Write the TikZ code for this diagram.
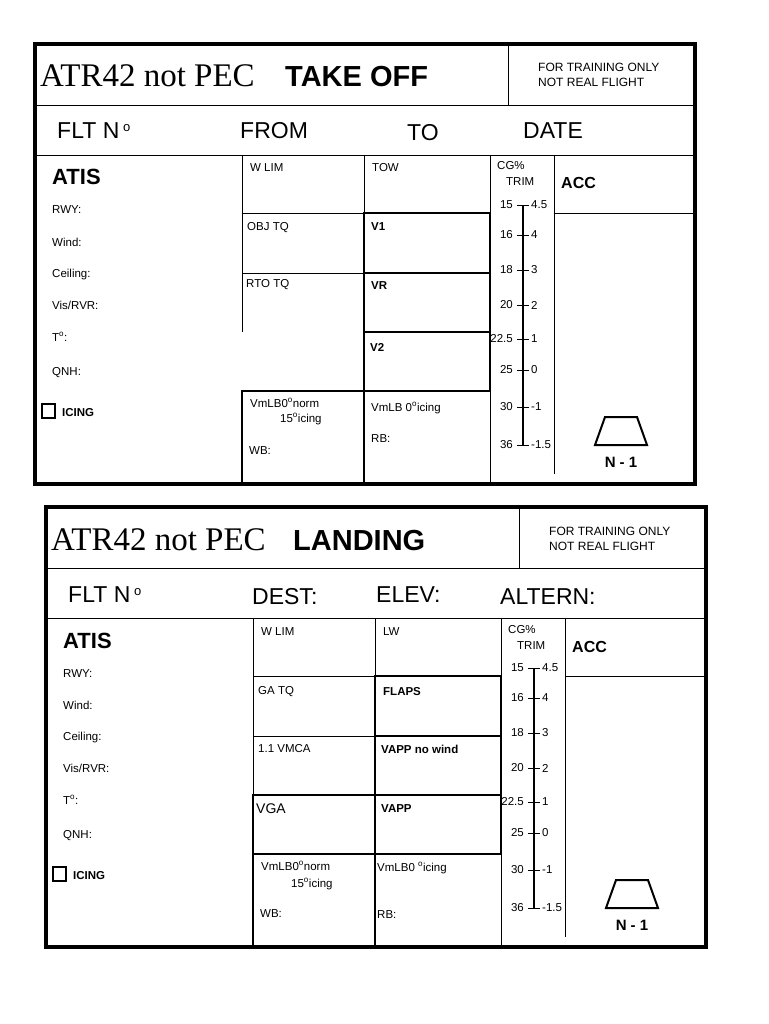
\documentclass[tikz,border=0pt]{standalone}
\usepackage{fontspec}
\setmainfont{Liberation Sans}
\newfontfamily\titlefont{Liberation Serif}
\tikzset{
  thin line/.style={line width=0.8pt},
  thick line/.style={line width=2.4pt},
  frame line/.style={line width=3.2pt},
  lbl/.style={anchor=base west, inner sep=0pt, font=\fontsize{11.5}{13}\selectfont},
  blbl/.style={lbl, font=\fontsize{11.5}{13}\selectfont\bfseries},
  head/.style={anchor=base west, inner sep=0pt, font=\fontsize{23}{26}\selectfont},
  small/.style={anchor=base west, inner sep=0pt, font=\fontsize{12}{14}\selectfont},
}
% grid, scale and side texts shared by both cards
\newcommand\cardbase{%
  \draw[thin line] (0,61) -- (660,61);
  \draw[thin line] (473,0) -- (473,61);
  \draw[thin line] (0,111) -- (660,111);
  \draw[thin line] (207,111) -- (207,288);
  \draw[thin line] (329,111) -- (329,169);
  \draw[thin line] (207,169) -- (329,169);
  \draw[thin line] (207,229) -- (329,229);
  \draw[thin line] (455,111) -- (455,440);
  \draw[thin line] (519,111) -- (519,430);
  \draw[thin line] (519,169) -- (660,169);
  \draw[thick line] (329,169) rectangle (455,229);
  \draw[thick line] (329,229) rectangle (455,288);
  \draw[thick line] (329,288) rectangle (455,347);
  \draw[thick line] (207,347) rectangle (329,440) (329,347) -- (329,440);
  \draw[frame line] (0,0) rectangle (660,440);
  \node[small] (train) at (503,28) {FOR TRAINING ONLY};
  \node[small] (real) at (503,43) {NOT REAL FLIGHT};
  \node[head] (flt) at (22,95) {FLT N\,\raisebox{7pt}{\fontsize{13}{13}\selectfont o}};
  \node[anchor=base west, inner sep=0pt, font=\fontsize{22}{24}\selectfont\bfseries] (atis) at (17,141) {ATIS};
  \node[lbl] (rwy) at (17,170) {RWY:};
  \node[lbl] (wind) at (17,202) {Wind:};
  \node[lbl] (ceil) at (17,233) {Ceiling:};
  \node[lbl] (vis) at (17,265) {Vis/RVR:};
  \node[lbl] (temp) at (17,297) {T\textsuperscript{o}:};
  \node[lbl] (qnh) at (17,331) {QNH:};
  \draw[line width=1.6pt] (7,360) rectangle (20,374);
  \node[blbl] (icing) at (27,372) {ICING};
  \node[lbl] (cg) at (462,126) {CG\%};
  \node[lbl] (trim) at (471,142) {TRIM};
  \node[anchor=base west, inner sep=0pt, font=\fontsize{16}{18}\selectfont\bfseries] (acc) at (526,145) {ACC};
  \draw[line width=2.6pt] (488,161) -- (488,401);
  \foreach \yy/\cgv/\trv in {161/15/4.5,191/16/4,226/18/3,261/20/2,295/22.5/1,326/25/0,363/30/-1,401/36/-1.5}{
    \draw[thin line] (482,\yy) -- (494,\yy);
    \node[anchor=east, inner sep=0pt, font=\fontsize{11.5}{12}\selectfont] at (478,\yy) {\cgv};
    \node[anchor=west, inner sep=0pt, font=\fontsize{11.5}{12}\selectfont] at (496,\yy) {\trv};
  }
  \draw[line width=2pt] (570,373) -- (602,373) -- (612,401) -- (560,401) -- cycle;
  \node[anchor=center, font=\fontsize{15}{17}\selectfont\bfseries] (n1) at (586,418) {N - 1};
  \node[lbl] (wlim) at (215,128) {W LIM};
  \node[lbl] (wb) at (214,410) {WB:};
}
\begin{document}
\begin{tikzpicture}[x=1pt, y=-1pt]
  \useasboundingbox (0,0) rectangle (768,1024);
  \fill[white] (0,0) rectangle (768,1024);
  % take off card
  \begin{scope}[shift={(35,44)}]
    \cardbase
    \node[head, font=\fontsize{33}{36}\selectfont\titlefont] (title) at (5,43) {ATR42 not PEC};
    \node[head, font=\fontsize{29}{32}\selectfont\bfseries] (mode) at (250,43) {TAKE OFF};
    \node[head] (from) at (205,95) {FROM};
    \node[head] (to) at (372,97) {TO};
    \node[head] (date) at (488,95) {DATE};
    \node[lbl] (tow) at (337,128) {TOW};
    \node[lbl] (objtq) at (212,187) {OBJ TQ};
    \node[blbl] (vone) at (336,187) {V1};
    \node[lbl] (rtotq) at (211,243) {RTO TQ};
    \node[blbl] (vr) at (336,245) {VR};
    \node[blbl] (vtwo) at (335,307) {V2};
    \node[lbl] (vmnorm) at (215,363) {VmLB0\textsuperscript{o}norm};
    \node[lbl] (vmice) at (245,378) {15\textsuperscript{o}icing};
    \node[lbl] (vmlb) at (336,367) {VmLB 0\textsuperscript{o}icing};
    \node[lbl] (rb) at (336,398) {RB:};
  \end{scope}
  % landing card
  \begin{scope}[shift={(46,507)}]
    \cardbase
    \draw[thick line] (207,288) rectangle (329,347);
    \node[head, font=\fontsize{33}{36}\selectfont\titlefont] (title2) at (5,43) {ATR42 not PEC};
    \node[head, font=\fontsize{29}{32}\selectfont\bfseries] (mode2) at (247,43) {LANDING};
    \node[head] (dest) at (206,97) {DEST:};
    \node[head] (elev) at (330,95) {ELEV:};
    \node[head] (altern) at (454,97) {ALTERN:};
    \node[lbl] (lw) at (337,128) {LW};
    \node[lbl] (gatq) at (212,187) {GA TQ};
    \node[blbl] (flaps) at (337,188) {FLAPS};
    \node[lbl] (vmca) at (212,245) {1.1 VMCA};
    \node[blbl] (vappnw) at (335,246) {VAPP no wind};
    \node[lbl, font=\fontsize{14}{16}\selectfont] (vga) at (210,306) {VGA};
    \node[blbl] (vapp) at (335,305) {VAPP};
    \node[lbl] (vmnorm2) at (215,363) {VmLB0\textsuperscript{o}norm};
    \node[lbl] (vmice2) at (245,380) {15\textsuperscript{o}icing};
    \node[lbl] (vmlb2) at (331,364) {VmLB0 \textsuperscript{o}icing};
    \node[lbl] (rb2) at (331,411) {RB:};
  \end{scope}
\end{tikzpicture}
\end{document}
